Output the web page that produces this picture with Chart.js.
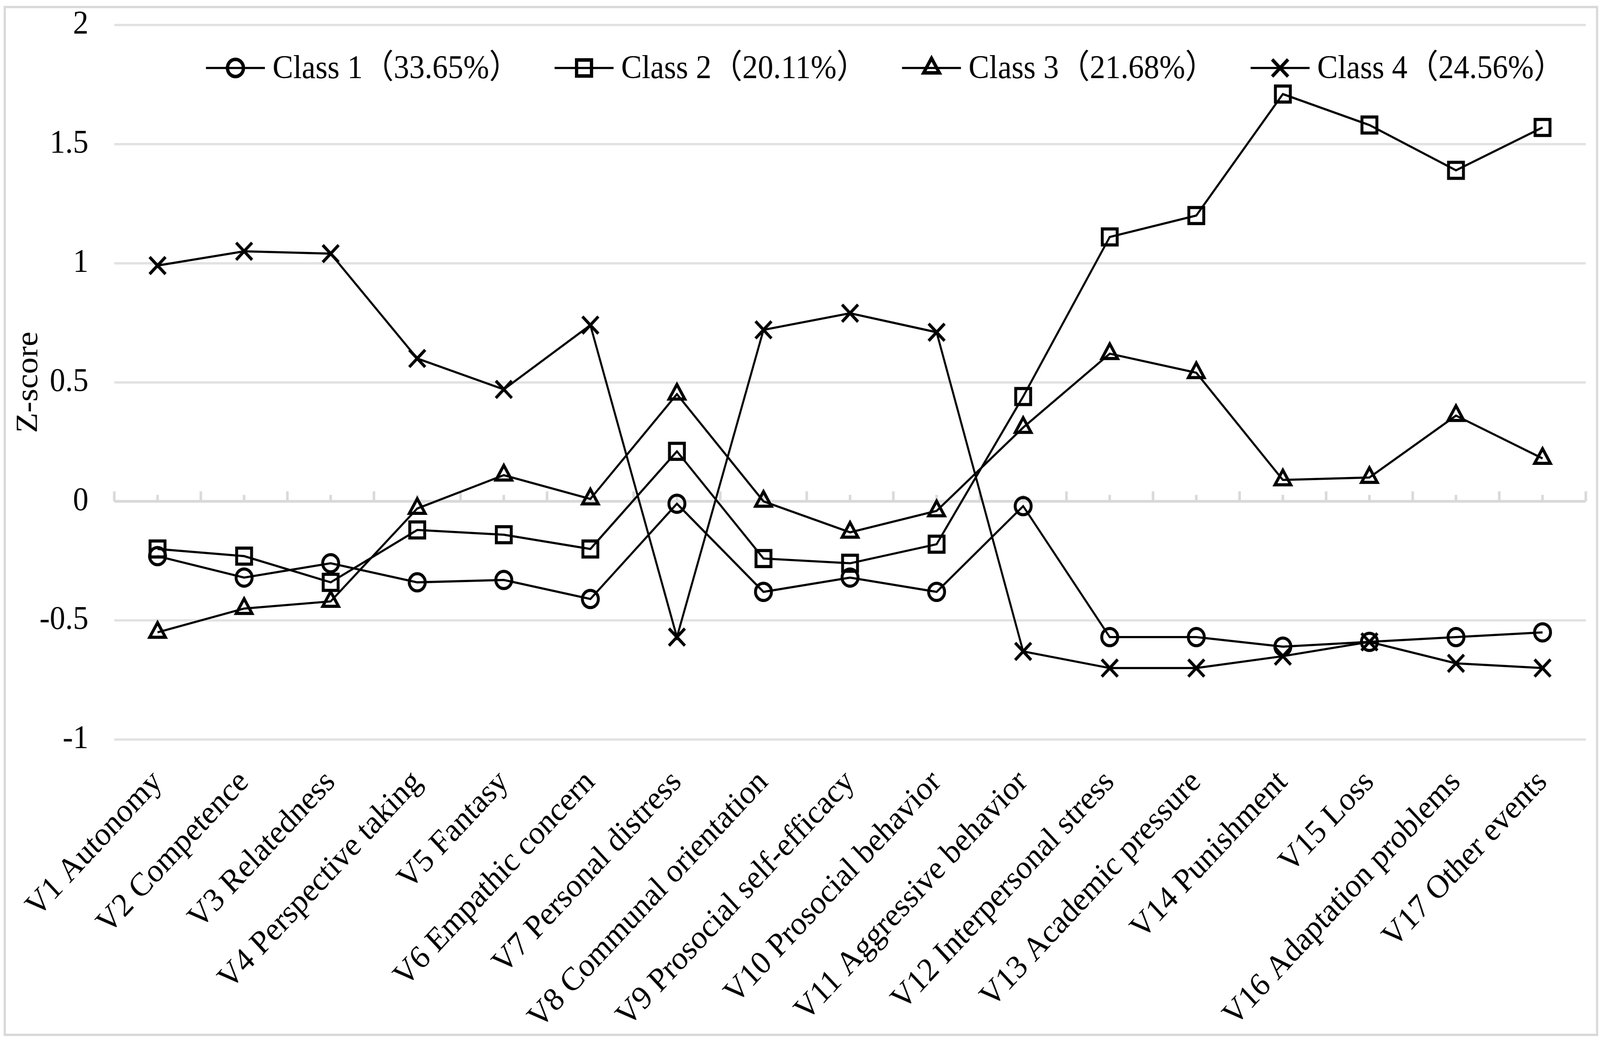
<!DOCTYPE html>
<html>
<head>
<meta charset="utf-8">
<script src="https://cdn.jsdelivr.net/npm/chart.js@4.4.1/dist/chart.umd.min.js"></script>
<style>
html,body{margin:0;padding:0;background:#fff;overflow:hidden;width:100%;height:100%;}
#wrap{position:absolute;left:0;top:0;width:4397px;height:2657px;transform-origin:0 0;}
</style>
</head>
<body>
<div id="wrap"><canvas id="c" width="4397" height="2657"></canvas></div>
<script>
// ---- data ----
const categories = [
  'V1 Autonomy','V2 Competence','V3 Relatedness','V4 Perspective taking','V5 Fantasy',
  'V6 Empathic concern','V7 Personal distress','V8 Communal orientation','V9 Prosocial self-efficacy',
  'V10 Prosocial behavior','V11 Aggressive behavior','V12 Interpersonal stress','V13 Academic pressure',
  'V14 Punishment','V15 Loss','V16 Adaptation problems','V17 Other events'
];
const seriesNames = ['Class 1（33.65%）','Class 2（20.11%）','Class 3（21.68%）','Class 4（24.56%）'];
const class1 = [-0.23,-0.32,-0.26,-0.34,-0.33,-0.41,-0.01,-0.38,-0.32,-0.38,-0.02,-0.57,-0.57,-0.61,-0.59,-0.57,-0.55];
const class2 = [-0.20,-0.23,-0.34,-0.12,-0.14,-0.20,0.21,-0.24,-0.26,-0.18,0.44,1.11,1.20,1.71,1.58,1.39,1.57];
const class3 = [-0.55,-0.45,-0.42,-0.03,0.11,0.01,0.45,0.00,-0.13,-0.04,0.31,0.62,0.54,0.09,0.10,0.36,0.18];
const class4 = [0.99,1.05,1.04,0.60,0.47,0.74,-0.57,0.72,0.79,0.71,-0.63,-0.70,-0.70,-0.65,-0.59,-0.68,-0.70];
const yTickValues = [-1,-0.5,0,0.5,1,1.5,2];
const yTickLabels = ['-1','-0.5','0','0.5','1','1.5','2'];
const yTitle = 'Z-score';

// ---- fit the 4397x2657 design to the actual viewport ----
const DW = 4397, DH = 2657;
const vw = window.innerWidth || DW, vh = window.innerHeight || DH;
const sx = vw / DW, sy = vh / DH;
document.getElementById('wrap').style.transform = 'scale(' + sx + ',' + sy + ')';

// ---- styling ----
const FONT = "'Liberation Serif','Times New Roman','Noto Sans CJK SC',serif";
const FS = 85;
const markers = [
  {style:'circle', r:22},
  {style:'rect', r:29},
  {style:'triangle', r:25},
  {style:'crossRot', r:31}
];
const allSeries = [class1, class2, class3, class4];

const datasets = allSeries.map((d, i) => ({
  label: seriesNames[i],
  data: d,
  borderColor: '#000',
  borderWidth: 5.5,
  tension: 0,
  fill: false,
  pointStyle: markers[i].style,
  pointRadius: markers[i].r,
  pointBorderWidth: 8,
  pointBorderColor: '#000',
  pointBackgroundColor: 'rgba(0,0,0,0)',
  pointHoverRadius: markers[i].r
}));

const decor = {
  id: 'decor',
  beforeDraw(chart) {
    const ctx = chart.ctx;
    ctx.save();
    ctx.fillStyle = '#fff';
    ctx.fillRect(0, 0, chart.width, chart.height);
    ctx.strokeStyle = '#d9d9d9';
    ctx.lineWidth = 6;
    ctx.strokeRect(13, 18, 4376, 2631);
    ctx.restore();
  },
  beforeDatasetsDraw(chart) {
    const {ctx, chartArea: a, scales: {x, y}} = chart;
    const y0 = y.getPixelForValue(0);
    const n = categories.length;
    const step = x.getPixelForValue(1) - x.getPixelForValue(0);
    ctx.save();
    ctx.strokeStyle = '#d9d9d9';
    ctx.lineWidth = 7;
    ctx.beginPath();
    ctx.moveTo(a.left, y0);
    ctx.lineTo(a.right, y0);
    ctx.stroke();
    ctx.beginPath();
    for (let i = 0; i <= n; i++) {
      const px = x.getPixelForValue(0) - step / 2 + i * step;
      ctx.moveTo(px, y0);
      ctx.lineTo(px, y0 - 3.5 - 22);
    }
    for (let i = 0; i < n; i++) {
      const px = x.getPixelForValue(i);
      ctx.moveTo(px, y0);
      ctx.lineTo(px, y0 - 3.5 - 13);
    }
    ctx.stroke();
    ctx.restore();
  },
  afterDatasetsDraw(chart) {
    const ctx = chart.ctx;
    ctx.save();
    ctx.font = FS + 'px ' + FONT;
    ctx.textBaseline = 'middle';
    const symW = 162, gapSym = 21, gapItem = 95;
    let xPos = 566;
    const yc = 174;
    chart.data.datasets.forEach((ds) => {
      ctx.strokeStyle = '#000';
      ctx.lineWidth = 5.5;
      ctx.beginPath();
      ctx.moveTo(xPos, yc);
      ctx.lineTo(xPos + symW, yc);
      ctx.stroke();
      ctx.fillStyle = 'rgba(0,0,0,0)';
      ctx.lineWidth = 9;
      Chart.helpers.drawPoint(ctx, {pointStyle: ds.pointStyle, radius: ds.pointRadius, rotation: 0, borderWidth: 9}, xPos + symW / 2, yc);
      ctx.fillStyle = '#000';
      ctx.textAlign = 'left';
      ctx.fillText(ds.label, xPos + symW + gapSym, yc + 4);
      xPos += symW + gapSym + ctx.measureText(ds.label).width + gapItem;
    });
    ctx.restore();
  }
};

function build() {
  new Chart(document.getElementById('c'), {
    type: 'line',
    data: {labels: categories, datasets},
    plugins: [decor],
    options: {
      responsive: false,
      devicePixelRatio: 1,
      animation: false,
      events: [],
      layout: {padding: {left: 20, right: 19, top: 64, bottom: 10}},
      plugins: {legend: {display: false}, tooltip: {enabled: false}, title: {display: false}},
      scales: {
        x: {
          type: 'category',
          offset: true,
          grid: {display: false, drawTicks: false},
          border: {display: false},
          ticks: {
            font: {family: FONT, size: FS},
            color: '#000',
            minRotation: 45,
            maxRotation: 45,
            autoSkip: false,
            padding: 60
          },
          afterFit(s) { s.height = DH - 10 - 1893; }
        },
        y: {
          min: -1,
          max: 2,
          afterBuildTicks(s) { s.ticks = yTickValues.map(v => ({value: v})); },
          ticks: {
            font: {family: FONT, size: FS},
            color: '#000',
            padding: 6,
            callback: (v) => yTickLabels[yTickValues.indexOf(v)]
          },
          grid: {
            drawTicks: true,
            tickLength: 65,
            tickColor: 'rgba(0,0,0,0)',
            lineWidth: 6,
            color: (c) => (c.tick && c.tick.value === 0) ? 'rgba(0,0,0,0)' : '#e2e2e2'
          },
          border: {display: false},
          title: {
            display: true,
            text: yTitle,
            font: {family: FONT, size: FS},
            color: '#000',
            padding: {top: 9, bottom: 0}
          },
          afterFit(s) { s.width = 294; }
        }
      }
    }
  });
}

if (document.fonts && document.fonts.load) {
  Promise.all([
    document.fonts.load(FS + "px 'Liberation Serif'"),
    document.fonts.load(FS + "px 'Noto Sans CJK SC'", '（）')
  ]).then(build, build);
} else {
  build();
}
</script>
</body>
</html>
